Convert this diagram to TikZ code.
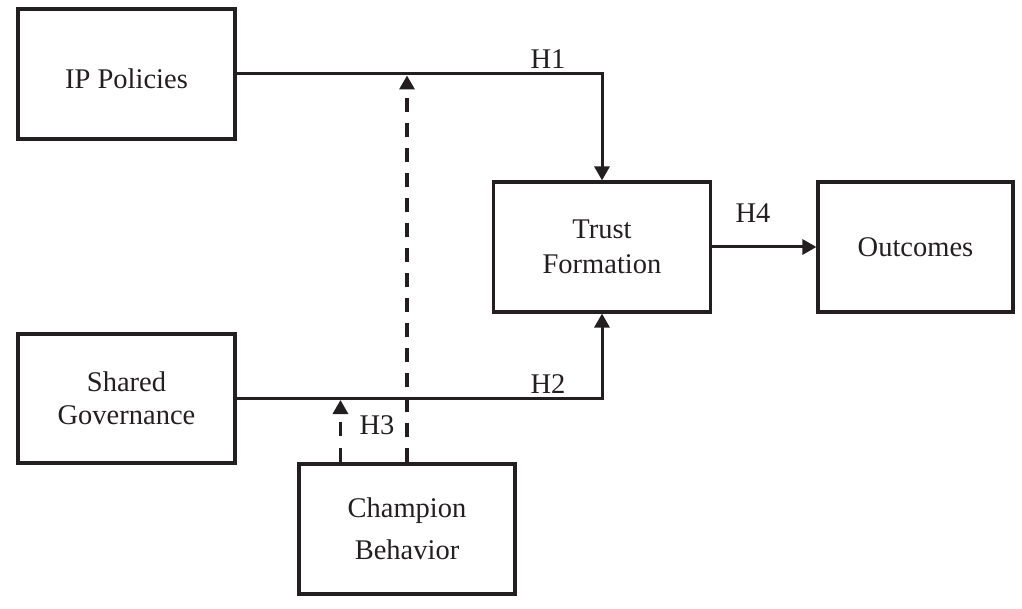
\documentclass[tikz,border=0pt]{standalone}
\usepackage{fontspec}
\setmainfont{Liberation Serif}
\usetikzlibrary{arrows.meta}
\definecolor{ink}{HTML}{231F20}
\begin{document}
\begin{tikzpicture}[x=1pt,y=-1pt,
  box/.style={draw=ink,line width=3.1pt,minimum width=217pt,minimum height=130pt,inner sep=0pt,font=\fontsize{28.5}{33}\selectfont,text=ink,align=center},
  conn/.style={draw=ink,line width=3pt,-{Triangle[width=15pt,length=14pt]}},
  dconn/.style={conn,line width=3.2pt,dash pattern=on 14pt off 11pt},
  lab/.style={font=\fontsize{28.5}{33}\selectfont,text=ink,inner sep=0pt}]
\useasboundingbox (0,0) rectangle (1022,609);
\node[box,text height=30pt,text depth=0pt] (ip) at (126.5,74) {IP Policies};
\node[box,minimum height=129pt] (sg) at (126.5,398.5) {Shared\\Governance};
\node[box,minimum width=216pt,font=\fontsize{28.5}{42}\selectfont] (ch) at (407,529) {Champion\\Behavior};
\node[box,font=\fontsize{28.5}{35}\selectfont] (tf) at (602,247) {Trust\\Formation};
\node[box,minimum width=195pt] (oc) at (915.5,247) {Outcomes};
\draw[conn] (ip.east) -| (tf.north);
\draw[conn] (sg.east) -| (tf.south);
\draw[conn] (tf.east) -- (oc.west);
\draw[dconn,shorten >=1.5pt] (ch.north) -- (ch.north |- ip.east);
\coordinate (chl) at ([xshift=43pt]ch.north west);
\draw[dconn,dash pattern=on 14pt off 12pt,shorten >=1.5pt] (chl) -- (chl |- sg.east);
\node[lab] (h1) at (548,59) {H1};
\node[lab] (h2) at (548,384) {H2};
\node[lab] (h3) at (377,425) {H3};
\node[lab] (h4) at (753,213) {H4};
\end{tikzpicture}
\end{document}
